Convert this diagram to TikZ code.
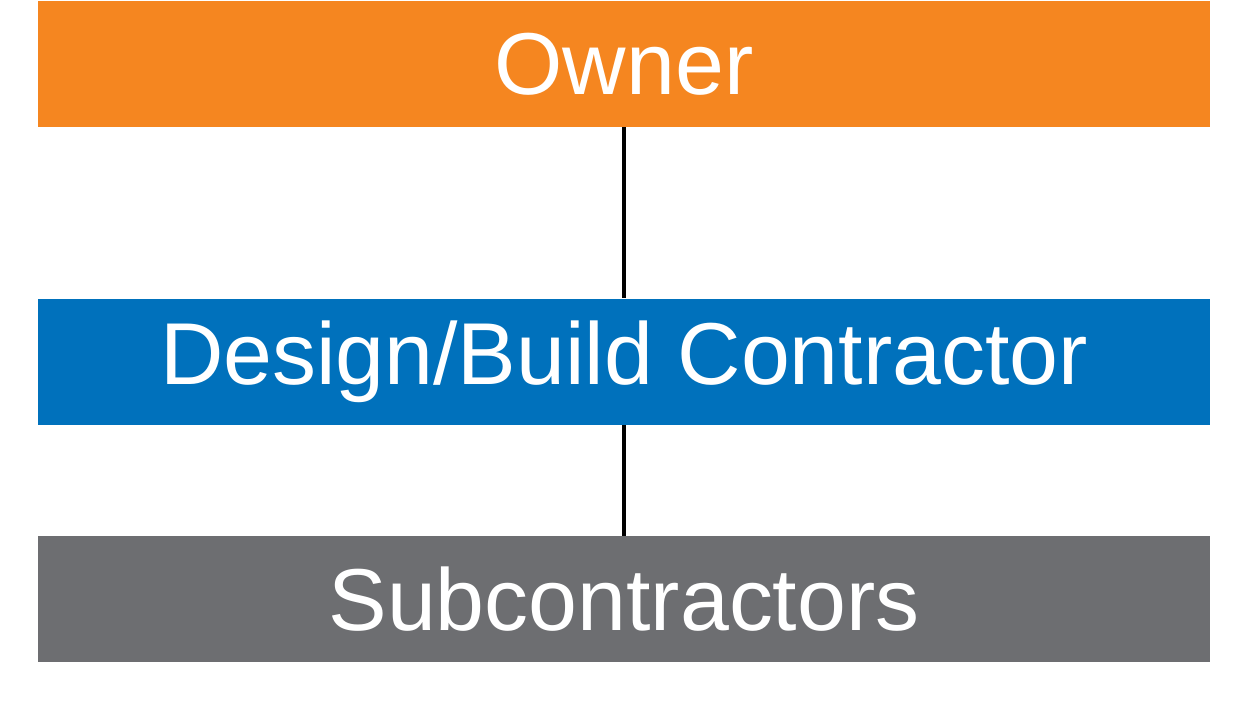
\documentclass[tikz,border=0pt]{standalone}
\usepackage{fontspec}
\setmainfont{Liberation Sans}
\usepackage{tikz}
\usetikzlibrary{positioning}
\definecolor{ownerorange}{HTML}{F58620}
\definecolor{dbblue}{HTML}{0071BC}
\definecolor{subgray}{HTML}{6D6E71}
\tikzset{node distance=3.42cm, auto,
  tier/.style={minimum width=23.44cm, minimum height=2.52cm, inner sep=0pt,
    text=white, font=\fontsize{50}{56}\selectfont},
  link/.style={line width=2.3pt, black}}

\begin{document}
\begin{tikzpicture}

             \useasboundingbox (0,0) rectangle (24.98,-14);

             \node (Owner) [tier, fill=ownerorange] at (12.48,-1.28) {Owner};
             \node (DB) [tier, fill=dbblue, below=of Owner] {Design/Build Contractor};
             \node (Subs) [tier, fill=subgray, below=2.22cm of DB] {Subcontractors};

             \draw [link] (Owner) to (DB);
             \draw [link] (DB) to (Subs);

          \end{tikzpicture}
\end{document}
